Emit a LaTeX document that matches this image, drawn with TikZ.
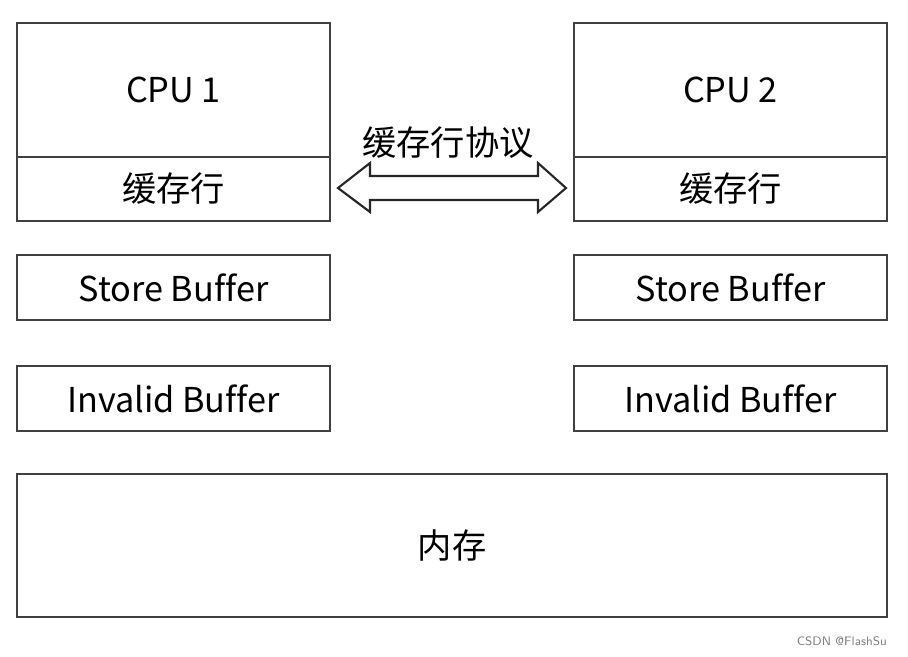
\documentclass[tikz,border=0pt]{standalone}
\usepackage{fontspec}
\setmainfont{Noto Sans CJK SC}[Ligatures=NoCommon]
\usetikzlibrary{positioning}
\begin{document}
\begin{tikzpicture}[x=0.02cm, y=-0.02cm,
  box/.style = {draw=black!75, line width=1.2pt, inner sep=0pt, font=\fontsize{19.5}{23}\selectfont}]
\useasboundingbox (0,0) rectangle (908,656);
% left side
\node[box, minimum width=6.26cm, minimum height=2.68cm] (cpua) at (173.5,90) {CPU 1};
\node[box, minimum width=6.26cm, minimum height=1.28cm, below=-1.2pt of cpua] (linea) {缓存行};
\node[box, minimum width=6.26cm, minimum height=1.3cm] (sba) at (173.5,287.5) {Store Buffer};
\node[box, minimum width=6.26cm, minimum height=1.3cm] (iba) at (173.5,398.5) {Invalid Buffer};
% right side
\node[box, minimum width=6.26cm, minimum height=2.68cm] (cpub) at (730.5,90) {CPU 2};
\node[box, minimum width=6.26cm, minimum height=1.28cm, below=-1.2pt of cpub] (lineb) {缓存行};
\node[box, minimum width=6.26cm, minimum height=1.3cm] (sbb) at (730.5,287.5) {Store Buffer};
\node[box, minimum width=6.26cm, minimum height=1.3cm] (ibb) at (730.5,398.5) {Invalid Buffer};
% memory
\node[box, minimum width=17.4cm, minimum height=2.86cm] (mem) at (452,545.5) {内存};
% protocol arrow
\draw[line width=1.2pt, draw=black!85, line join=miter]
  (338,188) -- (370,163) -- (370,176) -- (538,176) -- (538,163) -- (566,188)
  -- (538,212) -- (538,200) -- (370,200) -- (370,212) -- cycle;
\node[font=\fontsize{19.5}{23}\selectfont] (proto) at (448,143) {缓存行协议};
\node[font=\fontsize{7}{8}\selectfont\sffamily, text=black!50, anchor=east] (mark) at (893,641) {CSDN @FlashSu};
\end{tikzpicture}
\end{document}
